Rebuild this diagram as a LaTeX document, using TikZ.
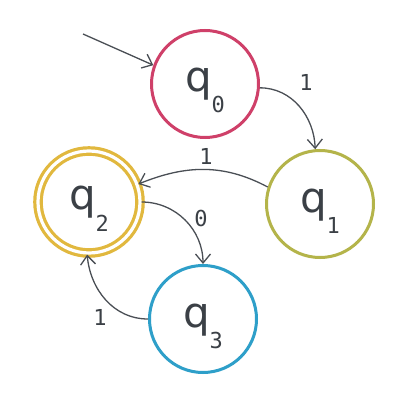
\documentclass[tikz,border=0pt]{standalone}
\usepackage{fontspec}
\setmainfont{DejaVu Sans Mono}
\newfontfamily\qfont{DejaVu Sans}
\usetikzlibrary{arrows.meta}
\definecolor{cred}{HTML}{CF4069}
\definecolor{colive}{HTML}{B4B44A}
\definecolor{cgold}{HTML}{E1B83E}
\definecolor{cblue}{HTML}{2E9FC9}
\definecolor{ctext}{HTML}{3B4046}
\definecolor{cedge}{HTML}{4A4F55}
\newcommand\stsub[1]{\raisebox{-21pt}{\rmfamily\fontsize{22}{22}\selectfont #1}}
\tikzset{
  statebox/.style={circle, draw=#1, line width=3pt, minimum size=107pt, inner sep=0pt},
  acceptbox/.style={circle, draw=#1, line width=3.2pt, double=white, double distance=3.2pt, minimum size=102pt, inner sep=0pt},
  statetext/.style={anchor=base, inner sep=0pt, text=ctext, font=\qfont\fontsize{42}{42}\selectfont},
  edgelabel/.style={inner sep=0pt, text=ctext, font=\fontsize{22}{22}\selectfont},
  trans/.style={draw=cedge, line width=1.3pt, -{Straight Barb[length=9pt,width=15pt]}}
}
\begin{document}
\begin{tikzpicture}[x=1pt,y=-1pt]
\useasboundingbox (0,0) rectangle (411,411);
\fill[white] (0,0) rectangle (411,411);
\node[statebox=cred] (q0) at (205,84) {};
\node[statebox=colive] (q1) at (320,204) {};
\node[acceptbox=cgold] (q2) at (89,202) {};
\node[statebox=cblue] (q3) at (203,319) {};
\node[statetext] (t0) at (205,92) {q\stsub{0}};
\node[statetext] (t1) at (320,212) {q\stsub{1}};
\node[statetext] (t2) at (89,210) {q\stsub{2}};
\node[statetext] (t3) at (203,327) {q\stsub{3}};
\coordinate (start) at (83,34);
\draw[trans] (start) -- (q0.160);
\draw[trans] (q0.-4) to[out=0,in=92] (q1.95);
\draw[trans] (q1.162) to[out=152,in=22] (q2.20);
\draw[trans] (q2.0) to[out=0,in=90] (q3.90);
\draw[trans] (q3.180) to[out=180,in=-85] (q2.-92);
\node[edgelabel] (l01) at (306,82) {1};
\node[edgelabel] (l12) at (206,156) {1};
\node[edgelabel] (l23) at (201,218) {0};
\node[edgelabel] (l32) at (100,317) {1};
\end{tikzpicture}
\end{document}
